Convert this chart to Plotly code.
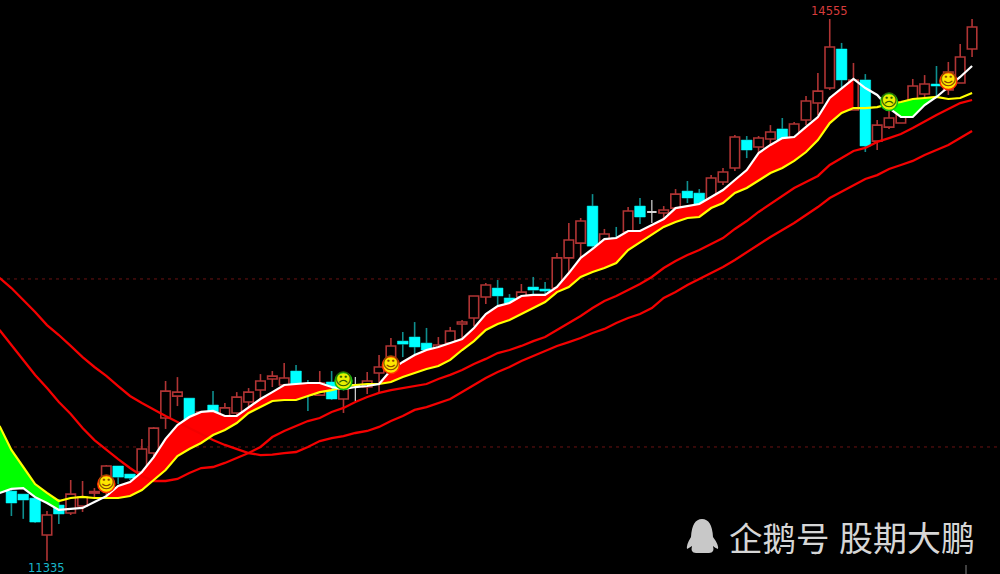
import plotly.graph_objects as go

# ---- Candles, one per session ----
OPEN = [11751,11733,11709,11490,11668,11621,11662,11739,11828,11900,
        11852,11864,11977,12185,12315,12303,12143,12262,12197,12215,
        12280,12351,12417,12381,12464,12381,12321,12399,12298,12381,
        12369,12452,12541,12642,12666,12630,12559,12630,12743,12779,
        12904,12957,12898,12904,12963,12951,12957,13136,13224,13444,
        13230,13254,13290,13444,13409,13403,13432,13533,13521,13480,
        13587,13670,13836,13795,13842,13902,13854,13955,14056,14145,
        14377,14015,14193,13830,13913,13937,14074,14110,14169,14133,
        14175,14377]
HIGH = [11764,11733,11709,11633,11704,11817,11811,11769,11906,11900,
        11852,12061,12131,12405,12428,12303,12221,12345,12274,12339,
        12363,12446,12464,12512,12500,12411,12464,12464,12423,12428,
        12458,12559,12660,12696,12755,12720,12666,12726,12767,12910,
        12987,13005,12921,12981,13023,12993,13165,13343,13373,13515,
        13308,13320,13438,13492,13480,13444,13545,13593,13545,13628,
        13670,13866,13860,13860,13925,13967,13943,14098,14234,14555,
        14413,14294,14228,13955,14026,14026,14199,14222,14276,14300,
        14407,14555]
LOW = [11603,11586,11561,11335,11555,11609,11627,11709,11709,11793,
       11817,11846,11947,12120,12256,12173,12125,12209,12197,12203,
       12233,12292,12369,12381,12381,12227,12321,12292,12215,12286,
       12327,12339,12470,12547,12559,12577,12559,12589,12660,12732,
       12862,12856,12868,12904,12921,12915,12957,13034,13136,13183,
       13183,13183,13272,13337,13343,13367,13432,13462,13456,13480,
       13569,13652,13729,13759,13795,13818,13854,13925,13985,14133,
       14145,14015,13765,13777,13902,13937,14050,14074,14086,14104,
       14175,14329]
CLOSE = [11680,11698,11567,11609,11615,11733,11715,11748,11900,11834,
         11828,12001,12125,12345,12339,12173,12221,12221,12245,12309,
         12339,12405,12434,12423,12387,12321,12393,12298,12363,12381,
         12405,12488,12613,12624,12607,12589,12619,12702,12755,12910,
         12975,12910,12868,12933,12945,12939,13136,13242,13355,13206,
         13278,13194,13415,13379,13409,13421,13515,13492,13456,13611,
         13646,13854,13777,13848,13884,13836,13931,14068,14127,14389,
         14193,14193,13801,13925,13967,13997,14157,14169,14157,14240,
         14329,14508]

# ---- Indicator lines: first value lies one session before the first candle ----
FAST = [11739,11764,11769,11715,11680,11639,11645,11651,11686,11721,
        11781,11805,11864,11953,12061,12143,12191,12221,12227,12197,
        12197,12245,12298,12339,12381,12387,12393,12393,12369,12357,
        12369,12375,12387,12470,12518,12559,12589,12607,12630,12654,
        12720,12803,12850,12868,12910,12916,12916,12963,13046,13136,
        13189,13248,13254,13296,13296,13331,13367,13432,13444,13456,
        13498,13539,13599,13658,13759,13807,13848,13854,13914,13973,
        14086,14145,14199,14145,14104,14026,13973,13973,14044,14092,
        14151,14211,14276]
SLOW = [12138,11995,11894,11793,11740,11692,11710,11716,11710,11710,
        11710,11722,11757,11817,11876,11959,12001,12037,12084,12114,
        12155,12215,12250,12286,12292,12292,12316,12339,12351,12369,
        12381,12387,12387,12399,12429,12452,12476,12494,12530,12589,
        12642,12708,12743,12767,12803,12838,12874,12933,12963,13023,
        13052,13076,13106,13183,13230,13272,13320,13349,13373,13379,
        13432,13462,13522,13551,13593,13640,13670,13712,13765,13836,
        13937,13997,14026,14026,14032,14050,14062,14080,14086,14092,
        14080,14086,14116]
MID = [12708,12619,12530,12441,12363,12280,12209,12126,12054,11995,
       11941,11888,11841,11811,11811,11823,11858,11888,11894,11918,
       11947,11977,12013,12072,12108,12138,12167,12185,12221,12245,
       12280,12310,12334,12351,12363,12375,12387,12417,12441,12470,
       12506,12536,12571,12589,12613,12642,12666,12708,12749,12791,
       12838,12880,12910,12945,12981,13023,13076,13118,13153,13183,
       13219,13254,13308,13355,13409,13456,13504,13551,13587,13623,
       13688,13729,13771,13789,13825,13848,13872,13908,13949,13985,
       14021,14056,14074]
LONG = [13017,12957,12886,12815,12737,12678,12613,12547,12488,12435,
        12375,12316,12274,12233,12197,12161,12126,12090,12054,12025,
        12001,11977,11965,11968,11977,11983,12013,12048,12066,12078,
        12096,12108,12132,12167,12197,12233,12250,12274,12298,12339,
        12381,12423,12458,12488,12524,12553,12583,12613,12636,12660,
        12690,12714,12749,12779,12803,12838,12898,12933,12975,13011,
        13046,13082,13124,13171,13213,13260,13302,13343,13391,13438,
        13492,13528,13569,13605,13628,13664,13688,13712,13747,13777,
        13807,13848,13890]
assert len(OPEN) == len(HIGH) == len(LOW) == len(CLOSE) == 82
assert len(FAST) == len(SLOW) == len(MID) == len(LONG) == 83

# Ribbon stretches as session ranges (inclusive) and their colour
RIBBONS = [(-1, 4, "#00ff00"), (8, 27, "#ff0000"), (31, 71, "#ff0000"), (74, 78, "#00ff00")]
GRID_LEVELS = [13011, 12013]
SMILE_SESSIONS = [8, 32, 79]
SMILE_LEVELS = [11793, 12500, 14187]
SAD_SESSIONS = [28, 74]
SAD_LEVELS = [12405, 14062]
HIGH_LABEL = (69, 14555)
LOW_LABEL = (3, 11335)

W, H = 1000, 574
STEP = 11.86
X0 = 11.4
x_range = [-X0 / STEP, (W - X0) / STEP]
y_range = [14668 - 5.94 * H, 14668]

UP, DOWN, WICK_DOWN, DOJI = "#b03434", "#00ffff", "#0f8f8f", "#d8d8d8"
sessions = list(range(82))
line_x = [-1] + sessions

fig = go.Figure()

# bodies
up_i = [i for i in sessions if CLOSE[i] > OPEN[i]]
dn_i = [i for i in sessions if CLOSE[i] < OPEN[i]]
dj_i = [i for i in sessions if CLOSE[i] == OPEN[i]]
fig.add_bar(x=up_i, base=[OPEN[i] for i in up_i], y=[CLOSE[i] - OPEN[i] for i in up_i],
            width=0.8, marker=dict(color="#000000", line=dict(color=UP, width=1.6)))
fig.add_bar(x=dn_i, base=[CLOSE[i] for i in dn_i], y=[OPEN[i] - CLOSE[i] for i in dn_i],
            width=0.9, marker=dict(color=DOWN, line=dict(color=DOWN, width=0.5)))
fig.add_bar(x=dj_i, base=[OPEN[i] - 3 for i in dj_i], y=[6 for i in dj_i],
            width=0.8, marker=dict(color=DOJI, line=dict(width=0)))


def wick_trace(idx, color, width):
    xs, ys = [], []
    for i in idx:
        top, bot = max(OPEN[i], CLOSE[i]), min(OPEN[i], CLOSE[i])
        xs += [i, i, None, i, i, None]
        ys += [HIGH[i], top, None, bot, LOW[i], None]
    fig.add_scatter(x=xs, y=ys, mode="lines", line=dict(color=color, width=width))


wick_trace(up_i, UP, 1.6)
wick_trace(dn_i, WICK_DOWN, 1.6)
wick_trace(dj_i, DOJI, 1.2)

# ribbons
for a, b, c in RIBBONS:
    lo, hi = a + 1, b + 2
    fig.add_scatter(x=line_x[lo:hi] + line_x[lo:hi][::-1],
                    y=FAST[lo:hi] + SLOW[lo:hi][::-1],
                    mode="lines", fill="toself", fillcolor=c, line=dict(width=0, color=c))

# slower averages, then the two ribbon edges
for series, col, w in ((LONG, "#f40000", 2.3), (MID, "#f40000", 2.3), (SLOW, "#ffff00", 2.2), (FAST, "#ffffff", 2.2)):
    fig.add_scatter(x=line_x, y=series, mode="lines", line=dict(color=col, width=w))

# signal faces
fig.add_scatter(x=SMILE_SESSIONS, y=SMILE_LEVELS, mode="markers+text", text=["☺"] * 3,
                textposition="middle center", textfont=dict(family="DejaVu Sans", size=17, color="#8a4a00"),
                marker=dict(size=17, color="#ffe600", line=dict(color="#ff3000", width=1.5)))
fig.add_scatter(x=SAD_SESSIONS, y=SAD_LEVELS, mode="markers+text", text=["☹"] * 2,
                textposition="middle center", textfont=dict(family="DejaVu Sans", size=17, color="#306000"),
                marker=dict(size=17, color="#e6f000", line=dict(color="#10c010", width=1.5)))

fig.add_annotation(x=HIGH_LABEL[0], y=HIGH_LABEL[1], text=str(HIGH_LABEL[1]), showarrow=False, yshift=8,
                   font=dict(family="DejaVu Sans", size=11.5, color="#d83c3c"))
fig.add_annotation(x=LOW_LABEL[0], y=LOW_LABEL[1], text=str(LOW_LABEL[1]), showarrow=False, yshift=-7,
                   font=dict(family="DejaVu Sans", size=11.5, color="#19b5c8"))

shapes = [dict(type="line", xref="paper", x0=0, x1=1, yref="y", y0=v, y1=v, layer="below",
               line=dict(color="#6a1212", width=1, dash="3px,4px")) for v in GRID_LEVELS]


def px(x, y):
    return f"{x / W:.5f},{1 - y / H:.5f}"


# tick at the bottom edge
shapes.append(dict(type="line", xref="paper", yref="paper", x0=966 / W, x1=966 / W,
                   y0=1 - 565 / H, y1=0, line=dict(color="#808080", width=1)))

# watermark penguin
path = ("M" + px(687, 549) + " Q" + px(686, 545) + " " + px(691, 537) + " Q" + px(692, 519) + " " + px(702, 519)
        + " Q" + px(712, 519) + " " + px(713, 537) + " Q" + px(719, 545) + " " + px(718, 549)
        + " Q" + px(715, 548) + " " + px(713, 546) + " Q" + px(715, 553) + " " + px(709, 553)
        + " L" + px(696, 553) + " Q" + px(690, 553) + " " + px(692, 546) + " Q" + px(689, 548) + " " + px(687, 549) + " Z")
shapes.append(dict(type="path", xref="paper", yref="paper", path=path,
                   fillcolor="#c8c8c8", line=dict(width=0)))

fig.add_annotation(xref="paper", yref="paper", x=726.5 / W, y=1 - 536.5 / H, xanchor="left", yanchor="middle",
                   text="企鹅号", showarrow=False,
                   font=dict(family="Noto Sans CJK SC", size=33.5, color="#d6d6d6"))
fig.add_annotation(xref="paper", yref="paper", x=837 / W, y=1 - 536.5 / H, xanchor="left", yanchor="middle",
                   text="股期大鹏", showarrow=False,
                   font=dict(family="Noto Sans CJK SC", size=34, color="#d6d6d6"))

fig.update_layout(
    width=W, height=H, margin=dict(l=0, r=0, t=0, b=0),
    paper_bgcolor="#000000", plot_bgcolor="#000000", showlegend=False, barmode="overlay",
    xaxis=dict(range=x_range, visible=False, fixedrange=True),
    yaxis=dict(range=y_range, visible=False, fixedrange=True),
    shapes=shapes,
)
fig.write_html("out.html", config={"displayModeBar": False},
               post_script="document.body.style.margin='0';document.body.style.background='#000';document.body.style.overflow='hidden';")
